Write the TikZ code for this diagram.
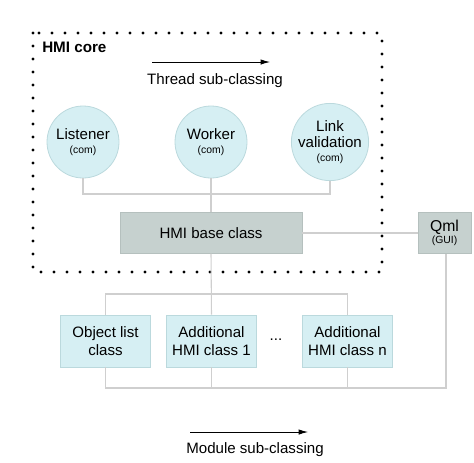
\documentclass[tikz,border=0pt]{standalone}
\usepackage{fontspec}
\setmainfont{Liberation Sans}
\usetikzlibrary{arrows.meta}
\definecolor{cfill}{HTML}{D6EFF3}
\definecolor{cdraw}{HTML}{BBD9DD}
\definecolor{gfill}{HTML}{C6D1CF}
\definecolor{gdraw}{HTML}{B5C0BE}
\definecolor{lgrey}{HTML}{CFCFCF}
\newcommand{\smalltxt}{\fontsize{7.8}{9}\selectfont}
\begin{document}
\begin{tikzpicture}[x=0.75pt,y=-0.75pt,
  circ/.style={circle,fill=cfill,draw=cdraw,line width=0.6pt,minimum size=54pt,inner sep=0pt,align=center,font=\fontsize{11.3}{12}\selectfont},
  cbox/.style={rectangle,fill=cfill,draw=cdraw,line width=0.6pt,minimum width=68pt,minimum height=39pt,inner sep=1pt,align=center,font=\fontsize{11.3}{13}\selectfont},
  gbox/.style={rectangle,fill=gfill,draw=gdraw,line width=0.6pt,minimum height=30.5pt,inner sep=1pt,align=center,font=\fontsize{11.3}{12}\selectfont},
  conn/.style={draw=lgrey,line width=0.8pt},
  dotbox/.style={line width=2.4pt,line cap=round,dash pattern=on 0pt off 9.75pt},
  lbl/.style={font=\fontsize{11.3}{13}\selectfont},
  arr/.style={-{Latex[length=7pt,width=4pt]},line width=0.6pt}
]
\useasboundingbox (0,0) rectangle (474,462);
\draw[dotbox] (33,33) rectangle (382,272);
\node[anchor=west,inner sep=0pt,font=\bfseries\fontsize{11.4}{12}\selectfont] (core) at (42,47) {HMI core};
\coordinate (ta) at (152,62);
\coordinate (tb) at (270,62);
\draw[arr] (ta) -- (tb);
\node[lbl] (thread) at (215,81) {Thread sub-classing};

\node[circ] (lis) at (83,142) {Listener\\[-1pt]{\smalltxt (com)}};
\node[circ] (wor) at (211,142) {Worker\\[-1pt]{\smalltxt (com)}};
\node[circ] (lnk) at (330,142) {Link\\validation\\[-1pt]{\smalltxt (com)}};

\node[gbox,minimum width=136.5pt] (base) at (211,233) {HMI base class};
\node[gbox,minimum width=39.75pt,font=\fontsize{11.8}{9}\selectfont] (qml) at (444.5,233) {Qml\\{\smalltxt (GUI)}};

\node[cbox] (obj) at (105.5,341) {Object list\\class};
\node[cbox] (ad1) at (211.5,341) {Additional\\HMI class 1};
\node[cbox] (adn) at (347.5,341) {Additional\\HMI class n};
\node[lbl] (dots) at (276,340) {...};

\coordinate (t1) at (83,194);
\coordinate (t3) at (330,194);
\draw[conn] (lis.south) -- (t1) -- (t3) -- (lnk.south);
\draw[conn] (wor.south) -- (base.north);
\draw[conn] (base.east) -- (qml.west);

\coordinate (m1) at (105.5,294);
\coordinate (m3) at (347.5,294);
\draw[conn] (base.south) -- (ad1.north);
\draw[conn] (obj.north) -- (m1) -- (m3) -- (adn.north);

\coordinate (b1) at (105.5,388);
\coordinate (b4) at (446,388);
\draw[conn] (obj.south) -- (b1) -- (b4) -- (b4 |- qml.south);
\draw[conn] (ad1.south) -- (ad1.south |- b1);
\draw[conn] (adn.south) -- (adn.south |- b1);

\coordinate (ma) at (190,432);
\coordinate (mb) at (308,432);
\draw[arr] (ma) -- (mb);
\node[lbl] (module) at (255,450) {Module sub-classing};
\end{tikzpicture}
\end{document}
